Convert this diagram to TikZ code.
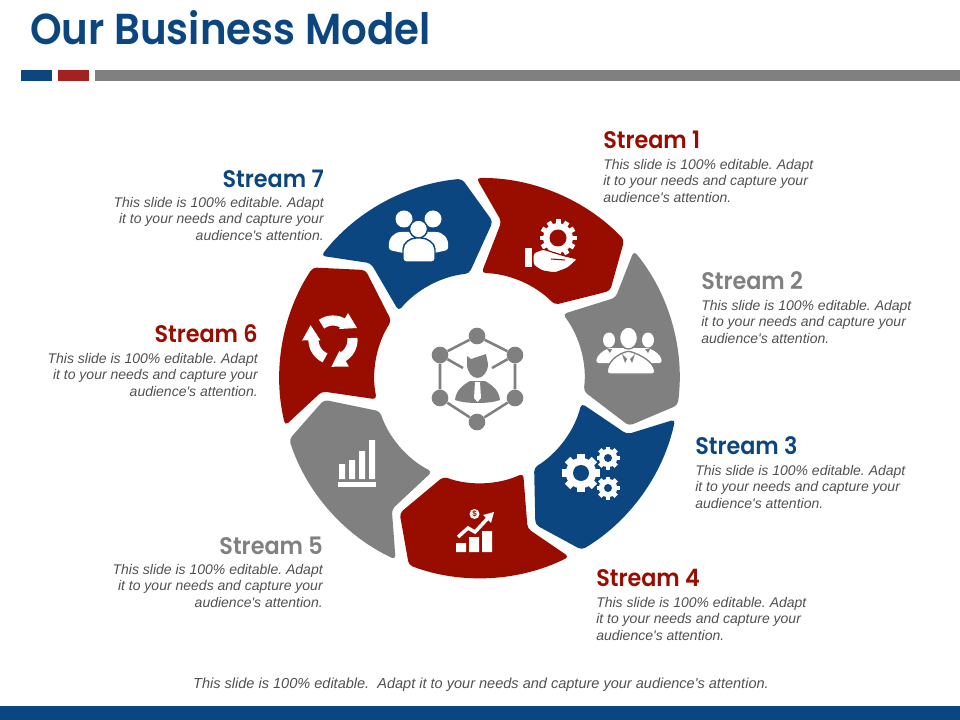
\documentclass[tikz,border=0pt]{standalone}
\usepackage{fontspec}
\setmainfont{Liberation Sans}
\newfontfamily\headfont[FakeStretch=.93]{Poppins SemiBold}
\usetikzlibrary{positioning}
\definecolor{modelblue}{HTML}{0B4680}
\definecolor{modelred}{HTML}{990C00}
\definecolor{barred}{HTML}{A3211F}
\definecolor{modelgray}{HTML}{808080}
\definecolor{notegray}{HTML}{505050}
\tikzset{
  streamhead/.style={anchor=base west,inner sep=0pt,font=\headfont\fontsize{18}{20}\selectfont},
  streamnote/.style={inner sep=0pt,text=notegray,font=\itshape\frenchspacing\fontsize{10.5}{12.4}\selectfont},
  hubdot/.style={circle,fill=modelgray,minimum size=12.5pt,inner sep=0pt},
  hubline/.style={modelgray,line width=1.9pt},
}
\newcommand{\gearicon}[6]{% x, y, radius, hole, colour, tooth step
  \foreach \t in {0,#6,...,359}{
    \fill[white,rotate around={\t:(#1,#2)}] (#1-#3*#6*.0045,#2) rectangle (#1+#3*#6*.0045,#2-#3);
  }
  \fill[white] (#1,#2) circle (#3*.8);
  \fill[#5] (#1,#2) circle (#4);
}
\newcommand{\notetext}{This slide is 100\% editable. Adapt\\it to your needs and capture your\\audience\textquotesingle s attention.}
\begin{document}
\begin{tikzpicture}[x=.75pt,y=.75pt,yscale=-1]
  \useasboundingbox (0,0) rectangle (960,720);
  % title and bars
  \node (title) [anchor=base west,inner sep=0pt,text=modelblue,font=\headfont\fontsize{32.5}{36}\selectfont] at (30,45) {Our Business Model};
  \fill[modelblue] (21,70) rectangle (52,81);
  \fill[barred] (58,70) rectangle (89,81);
  \fill[modelgray] (95,70) rectangle (960,81);
  \fill[modelblue] (0,706) rectangle (960,720);
  % ring
  \foreach \k/\col in {0/modelred,1/modelgray,2/modelblue,3/modelred,4/modelgray,5/modelred,6/modelblue}{
    \begin{scope}[shift={(479.5,378)},rotate=\k*51.4286]
      \fill[\col,rounded corners=3pt] (-90.9:200) arc[start angle=-90.9,end angle=-43.6,radius=200]
        -- (-33.7:157) -- (-44.2:105) arc[start angle=-44.2,end angle=-88.9,radius=105]
        -- (-82:158) -- cycle;
    \end{scope}
  }
  % stream 7 people
  \fill[white] (404,219) circle (8.5) (433,219) circle (8.5);
  \fill[white,rounded corners=2pt] (389,250) .. controls (388,238) and (394,232) .. (404,232) -- (433,232) .. controls (443,232) and (449,238) .. (448,250) -- (434,253) -- (403,253) -- cycle;
  \draw[fill=white,draw=modelblue,line width=1.1pt] (418.5,229) circle (9);
  \draw[fill=white,draw=modelblue,line width=1.1pt,rounded corners=2pt] (403,262) -- (403,252) .. controls (403,243) and (410,238) .. (418.5,238) .. controls (427,238) and (435,243) .. (435,252) -- (435,262) -- cycle;
  % stream 1 gear in hand
  \gearicon{558}{238}{18.5}{8.5}{modelred}{30}
  \fill[white] (525,248) rectangle (532,267);
  \fill[white,draw=modelred,line width=.9pt,rounded corners=2pt] (533,253) -- (543,249) -- (555,253) -- (565,256) -- (578,259) -- (568,268) -- (555,273) -- (542,271) -- (533,265) -- cycle;
  \draw[modelred,line width=.8pt] (551,259) -- (565,260);
  % stream 2 people
  \fill[white] (609,340) ellipse (6 and 7.5) (648,340) ellipse (6 and 7.5);
  \fill[white,rounded corners=2pt] (596,363) .. controls (597,355) and (603,351) .. (609,348) -- (648,348) .. controls (655,351) and (661,355) .. (662,363) -- cycle;
  \draw[fill=white,draw=modelgray,line width=1pt] (628.5,338) ellipse (9 and 11);
  \draw[fill=white,draw=modelgray,line width=1pt,rounded corners=2pt] (607,374) .. controls (608,362) and (616,355) .. (628.5,351) .. controls (641,355) and (654,362) .. (655,374) -- cycle;
  \fill[modelgray] (622,354) -- (627,359) -- (625,363) -- cycle (635,354) -- (630,359) -- (632,363) -- cycle;
  \fill[modelgray] (607,349) -- (610,353) -- (612,349) -- cycle (645,349) -- (648,353) -- (650,349) -- cycle;
  % stream 3 gears
  \gearicon{581}{473}{19}{8}{modelblue}{45}
  \gearicon{608}{458}{11.5}{4}{modelblue}{45}
  \gearicon{608}{488}{11.5}{4}{modelblue}{45}
  % stream 4 growth chart
  \fill[white] (456,543) rectangle (466,552) (469,537) rectangle (479,552) (482,531) rectangle (492,552);
  \draw[white,line width=2.6pt] (458,537) -- (468,528) -- (475,532) -- (488,518);
  \fill[white] (494,512) -- (483,515) -- (491,523) -- cycle;
  \node (coin) [circle,fill=white,minimum size=7.5pt,inner sep=0pt,text=modelred,font=\bfseries\fontsize{6}{6}\selectfont] at (474.5,514) {\$};
  % stream 5 bars
  \fill[white] (339,464) rectangle (345,479) (349,460) rectangle (355,479) (359,451) rectangle (365,479) (369,440) rectangle (375,479);
  \fill[white] (338,482) rectangle (376,487);
  % stream 6 arrows
  \foreach \r in {0,120,240}{
    \begin{scope}[shift={(333,340)},rotate=\r]
      \draw[white,line width=7.6pt] (-126:19.5) arc[start angle=-126,end angle=-55,radius=19.5];
      \fill[white] (15,-27) -- (24,-12) -- (6,-11) -- cycle;
    \end{scope}
  }
  % centre
  \node (hubt) [hubdot] at (477,336) {};
  \node (hubur) [hubdot] at (515,355) {};
  \node (hublr) [hubdot] at (515,398) {};
  \node (hubb) [hubdot] at (477,422) {};
  \node (hubll) [hubdot] at (440,398) {};
  \node (hubul) [hubdot] at (440,355) {};
  \draw[hubline] (hubt) -- (hubur) -- (hublr) -- (hubb) -- (hubll) -- (hubul) -- (hubt);
  \coordinate (spokel) at (463,368);
  \coordinate (spoker) at (492,368);
  \draw[hubline] (hubul) -- (spokel);
  \draw[hubline] (hubur) -- (spoker);
  \fill[modelgray] (467,356) -- (471,359) -- (486,354) -- (488,364) .. controls (488,372) and (483,378) .. (477.5,378) .. controls (472,378) and (467,372) .. (467,364) -- cycle;
  \fill[modelgray] (455,400) .. controls (456,390) and (463,385) .. (470,381) -- (485,381) .. controls (492,385) and (499,390) .. (500,400) .. controls (490,404) and (465,404) .. (455,400) -- cycle;
  \fill[white] (475,382) -- (480,382) -- (481,398) -- (477.5,402) -- (474,398) -- cycle;
  % streams
  \node (head1) [streamhead,text=modelred] at (603,148.5) {Stream 1};
  \node (note1) [streamnote,anchor=north west,align=left] at (603,159) {\notetext};
  \node (head2) [streamhead,text=modelgray] at (701,289.5) {Stream 2};
  \node (note2) [streamnote,anchor=north west,align=left] at (701,300) {\notetext};
  \node (head3) [streamhead,text=modelblue] at (695,454.5) {Stream 3};
  \node (note3) [streamnote,anchor=north west,align=left] at (695,465) {\notetext};
  \node (head4) [streamhead,text=modelred] at (596,586.5) {Stream 4};
  \node (note4) [streamnote,anchor=north west,align=left] at (596,597) {\notetext};
  \node (head5) [streamhead,anchor=base east,text=modelgray] at (323,554.5) {Stream 5};
  \node (note5) [streamnote,anchor=north east,align=right] at (323,564) {\notetext};
  \node (head6) [streamhead,anchor=base east,text=modelred] at (258,342.5) {Stream 6};
  \node (note6) [streamnote,anchor=north east,align=right] at (258,353) {\notetext};
  \node (head7) [streamhead,anchor=base east,text=modelblue] at (324,187.5) {Stream 7};
  \node (note7) [streamnote,anchor=north east,align=right] at (324,197) {\notetext};
  \node (foot) [streamnote,font=\itshape\frenchspacing\fontsize{10.9}{12.4}\selectfont] at (481,685) {This slide is 100\% editable.\ \ Adapt it to your needs and capture your audience\textquotesingle s attention.};
\end{tikzpicture}
\end{document}
